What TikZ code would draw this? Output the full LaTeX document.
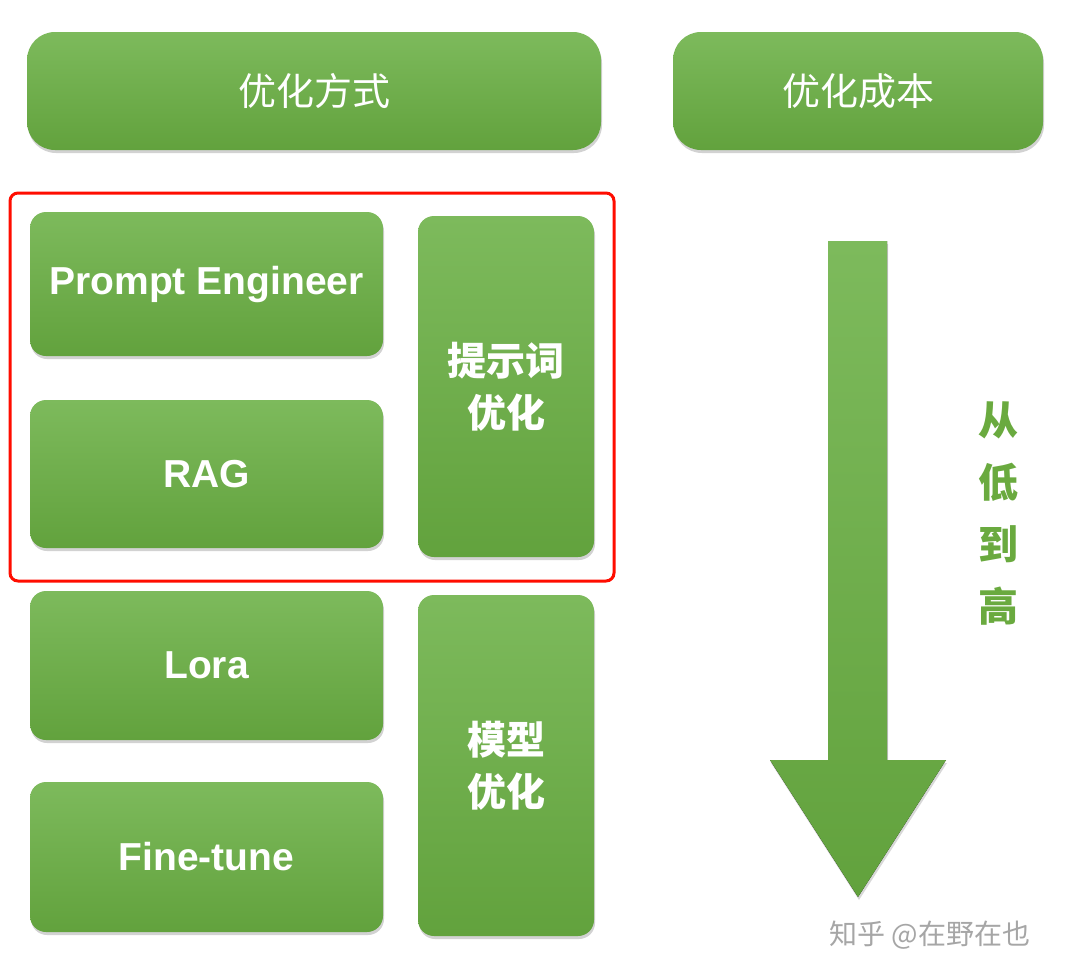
\documentclass[tikz,border=0pt]{standalone}
\usepackage{fontspec}
\setmainfont{Liberation Sans}
\newfontfamily\cjk{Noto Sans CJK SC}
\usetikzlibrary{shadows}
\definecolor{gtop}{HTML}{7DBA5C}
\definecolor{gbot}{HTML}{62A23D}
\definecolor{gtxt}{HTML}{6AAA3F}
\begin{document}
\begin{tikzpicture}[x=1pt,y=-1pt,
  box/.style={draw=none,rounded corners=16pt,top color=gtop,bottom color=gbot,
    drop shadow={shadow xshift=1pt,shadow yshift=-3pt,opacity=0.35},
    text=white,font=\bfseries\fontsize{39}{44}\selectfont,align=center},
  head/.style={box,rounded corners=28pt,font=\cjk\fontsize{38}{44}\selectfont}]
\useasboundingbox (0,0) rectangle (1074,980);
\fill[white] (0,0) rectangle (1074,980);
\node[head,minimum width=574pt,minimum height=118pt] (m) at (314,91) {优化方式};
\node[head,minimum width=370pt,minimum height=118pt] (c) at (858,91) {优化成本};
\node[box,minimum width=353pt,minimum height=144pt] (pe) at (206.5,284) {Prompt Engineer};
\node[box,minimum width=353pt,minimum height=148pt] (rag) at (206.5,474) {RAG};
\node[box,minimum width=176pt,minimum height=341pt,font=\cjk\bfseries\fontsize{39}{52}\selectfont] (po) at (506,386.5) {提示词\\优化};
\node[box,minimum width=353pt,minimum height=149pt] (lora) at (206.5,665.5) {Lora};
\node[box,minimum width=353pt,minimum height=150pt] (ft) at (206.5,857) {Fine-tune};
\node[box,minimum width=176pt,minimum height=341pt,font=\cjk\bfseries\fontsize{39}{52}\selectfont] (mo) at (506,765.5) {模型\\优化};
\draw[red!90!orange,line width=3pt,rounded corners=8pt] (10,193) rectangle (614,581);
\fill[top color=gtop,bottom color=gbot,drop shadow={shadow xshift=1pt,shadow yshift=-3pt,opacity=0.3}]
  (828,241) -- (887,241) -- (887,760) -- (946,760) -- (858,897) -- (770,760) -- (828,760) -- cycle;
\node[text=gtxt,font=\cjk\bfseries\fontsize{40}{62}\selectfont,align=center] (v) at (998,513) {从\\低\\到\\高};
\node[text=gray!70,font=\cjk\fontsize{28}{32}\selectfont] (w) at (930,935) {知乎 @在野在也};
\end{tikzpicture}
\end{document}
